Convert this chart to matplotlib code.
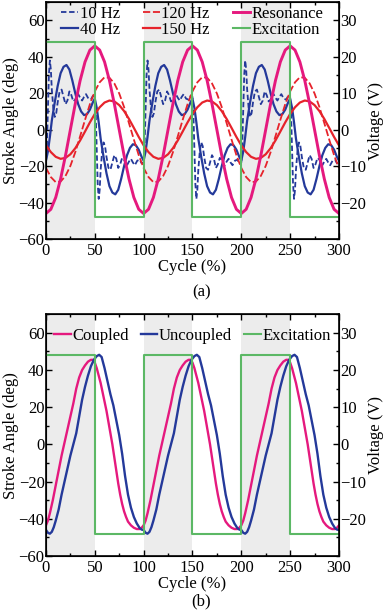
import numpy as np
import matplotlib
matplotlib.use('Agg')
import matplotlib.pyplot as plt
from matplotlib.ticker import MultipleLocator

plt.rcParams['font.family'] = ['Liberation Serif', 'DejaVu Serif']
plt.rcParams['font.size'] = 12

# ---- data read off one cycle (0..100 % of cycle), repeated for 3 cycles ----
# panel (a)
x_10hz = [0, 1, 2, 3, 4, 5, 6, 7.5, 9, 10.5, 12, 14, 16, 18, 20, 22, 24, 26, 28, 30,
          32.5, 35, 37, 39, 41, 43.5, 46, 48,
          50, 51, 52, 53, 54, 55, 56, 57.5, 59, 60.5, 62, 64, 66, 68, 70, 72, 74, 76, 78, 80,
          82.5, 85, 87, 89, 91, 93.5, 96, 98, 100]
y_10hz = [-18, -8, 12, 30, 38, 33, 22, 12, 7, 9, 15, 21, 22, 18, 14, 16, 21, 19, 15.5, 16.5,
          20, 17.5, 16, 18, 19.5, 17, 16.5, 18.5,
          18, 8, -12, -30, -38, -33, -22, -12, -7, -9, -15, -21, -22, -18, -14, -16, -21, -19, -15.5, -16.5,
          -20, -17.5, -16, -18, -19.5, -17, -16.5, -18.5, -18]

x_40hz = [0, 2, 4, 6, 9, 12, 15, 18, 21, 24, 27, 30, 33, 36, 39, 42, 45, 48,
          50, 52, 54, 56, 59, 62, 65, 68, 71, 74, 77, 80, 83, 86, 89, 92, 95, 98, 100]
y_40hz = [-17, -12, -4, 5, 15, 24, 31, 34.5, 35.5, 33, 27, 20, 14, 10, 8, 8.5, 11, 15,
          17, 12, 4, -5, -15, -24, -31, -34.5, -35.5, -33, -27, -20, -14, -10, -8, -8.5, -11, -15, -17]

x_sine = [0, 5, 10, 15, 20, 25, 30, 35, 40, 45, 50, 55, 60, 65, 70, 75, 80, 85, 90, 95, 100]
y_120hz = [-21, -26, -28.8, -28.5, -25.4, -19.9, -12.4, -3.6, 5.4, 14, 21,
           26, 28.8, 28.5, 25.4, 19.9, 12.4, 3.6, -5.4, -14, -21]
y_150hz = [-8.6, -12.3, -14.9, -16, -15.5, -13.5, -10.2, -5.9, -1, 4, 8.6,
           12.3, 14.9, 16, 15.5, 13.5, 10.2, 5.9, 1, -4, -8.6]
y_res = [-46, -43.7, -37.2, -27, -14.2, 0, 14.2, 27, 37.2, 43.7, 46,
         43.7, 37.2, 27, 14.2, 0, -14.2, -27, -37.2, -43.7, -46]

# panel (b)
x_coup = [0, 2, 4, 7, 10, 13, 16, 19, 22, 25, 28, 31, 34, 37, 40, 43, 46, 48, 50, 52, 54,
          56, 58, 60, 62, 64, 66, 68, 70, 72, 74, 76, 78, 80, 82, 84, 87, 90, 93, 96, 98, 100]
y_coup = [-43.5, -41, -37, -30, -22, -14, -6, 1, 8, 15, 22, 30, 36, 40, 42.5, 44.5, 45.5, 45.5, 44, 41, 37,
          33, 28, 23, 18, 12, 6, 0, -7, -14, -21, -27, -32, -36, -39, -41.5, -43.5, -44.8, -45.5, -45.5, -44.8, -43.5]

x_unc = [0, 2, 4, 6, 8, 10, 13, 16, 19, 22, 25, 28, 31, 34, 37, 40, 43, 46, 49, 52, 54.5,
         57, 60, 63, 66, 69, 72, 75, 78, 81, 84, 87, 90, 93, 96, 98, 100]
y_unc = [-46, -47.5, -48, -47, -44.5, -41, -35, -27, -20, -13, -6, 0, 6, 15, 24, 31, 37, 42, 45.5, 47.5, 48.2,
         47, 41, 34, 27, 21, 13, 5, -5, -17, -27, -34, -39, -42.5, -45, -45.8, -46]

# excitation square wave (V)
exc_t = [0, 50, 100, 150, 200, 250, 300]
exc_v = [24, -24, 24, -24, 24, -24, -24]

n_cycles = 3


def tile(x, y):
    xs, ys = [], []
    for k in range(n_cycles):
        start = 0 if k == 0 else 1
        xs += [v + 100 * k for v in x[start:]]
        ys += list(y[start:])
    return np.array(xs), np.array(ys)


magenta = '#e5197e'
navy = '#24399a'
red = '#e6232b'
green = '#5cb865'
shade = '#ececec'


def style_axes(ax, ax2):
    ax.set_xlim(0, 300)
    ax.set_ylim(-60, 70)
    ax2.set_ylim(-30, 35)
    ax.set_xticks([0, 50, 100, 150, 200, 250, 300])
    ax.set_yticks([-60, -40, -20, 0, 20, 40, 60])
    ax2.set_yticks([-20, -10, 0, 10, 20, 30])
    ax.xaxis.set_minor_locator(MultipleLocator(25))
    ax.yaxis.set_minor_locator(MultipleLocator(10))
    ax2.yaxis.set_minor_locator(MultipleLocator(5))
    ax.tick_params(which='both', direction='in', top=True, right=False)
    ax.tick_params(axis='x', pad=3)
    ax.tick_params(axis='y', pad=1)
    ax.tick_params(which='major', length=4, width=1)
    ax.tick_params(which='minor', length=2.5, width=1)
    ax2.tick_params(which='both', direction='in', pad=1)
    ax2.tick_params(which='major', length=4, width=1)
    ax2.tick_params(which='minor', length=2.5, width=1)
    for s in ax2.spines.values():
        s.set_linewidth(1.2)
    ax.set_xlabel('Cycle (%)', labelpad=0)
    ax.set_ylabel('Stroke Angle (deg)', labelpad=0)
    ax2.set_ylabel('Voltage (V)', labelpad=1)
    for k in range(0, 300, 100):
        ax.axvspan(k, k + 50, color=shade, lw=0, zorder=0)


fig = plt.figure(figsize=(3.83, 6.12), dpi=100)

# ---- panel (a) ----
ax = fig.add_axes([0.120, 0.6095, 0.765, 0.387])
ax2 = ax.twinx()
style_axes(ax, ax2)
h1, = ax.plot(*tile(x_10hz, y_10hz), color=navy, lw=1.3, ls=(0, (3, 1.5)), label='10 Hz')
h2, = ax.plot(*tile(x_40hz, y_40hz), color=navy, lw=1.6, label='40 Hz')
h3, = ax.plot(*tile(x_sine, y_120hz), color=red, lw=1.3, ls=(0, (4, 1.5)), label='120 Hz')
h4, = ax.plot(*tile(x_sine, y_150hz), color=red, lw=1.6, label='150 Hz')
h5, = ax.plot(*tile(x_sine, y_res), color=magenta, lw=2.1, label='Resonance')
h6, = ax2.step(exc_t, exc_v, where='post', color=green, lw=1.5, label='Excitation')
ax2.legend(handles=[h1, h2, h3, h4, h5, h6], ncol=3, loc='upper center',
           bbox_to_anchor=(0.5, 1.025), frameon=False, handlelength=1.0,
           handletextpad=0.1, columnspacing=1.4, labelspacing=0.0, borderaxespad=0.2)
fig.text(0.525, 0.523, '(a)', ha='center', va='center')

# ---- panel (b) ----
bx = fig.add_axes([0.120, 0.0915, 0.765, 0.395])
bx2 = bx.twinx()
style_axes(bx, bx2)
g1, = bx.plot(*tile(x_coup, y_coup), color=magenta, lw=1.7, label='Coupled')
g2, = bx.plot(*tile(x_unc, y_unc), color=navy, lw=1.7, label='Uncoupled')
g3, = bx2.step(exc_t, exc_v, where='post', color=green, lw=1.5, label='Excitation')
bx2.legend(handles=[g1, g2, g3], ncol=3, loc='upper center', bbox_to_anchor=(0.5, 0.985),
           frameon=False, handlelength=1.0, handletextpad=0.1, columnspacing=0.7,
           borderaxespad=0.2)
fig.text(0.525, 0.018, '(b)', ha='center', va='center')

fig.savefig('out.png', dpi=100)
